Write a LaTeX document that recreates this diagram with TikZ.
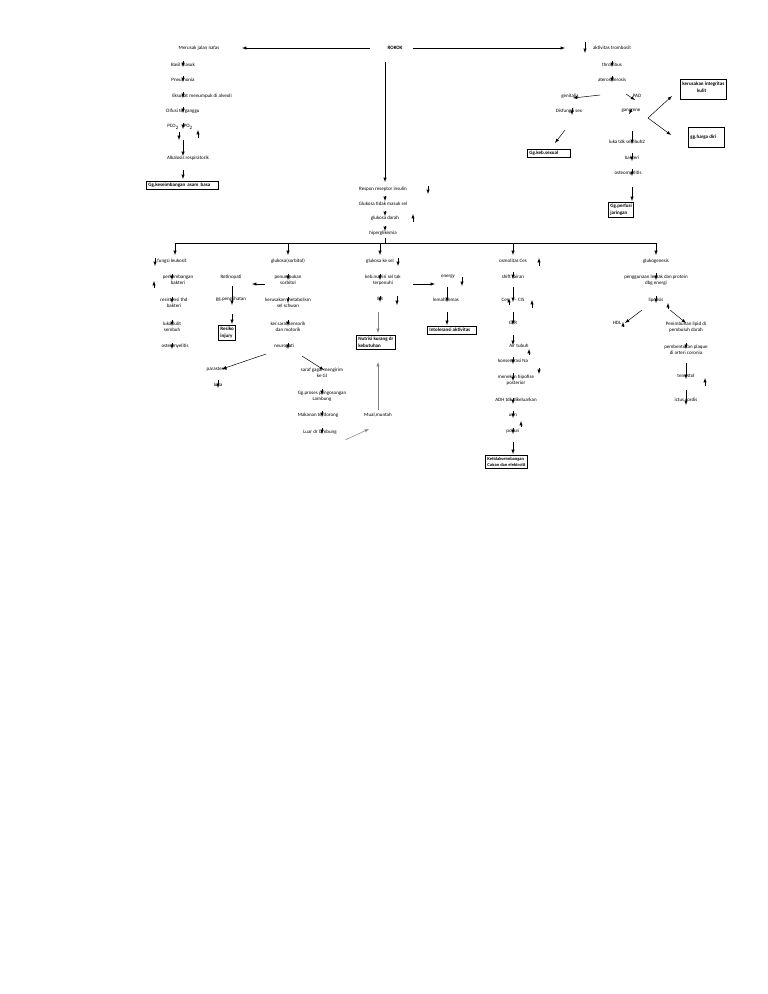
\documentclass[tikz,border=0pt]{standalone}
\usepackage{fontspec}
\setmainfont{Carlito}
\begin{document}
\begin{tikzpicture}[x=1pt,y=-1pt,
 t/.style={font=\fontsize{5}{6}\selectfont,align=center,inner sep=0.5pt},
 bx/.style={draw,line width=0.9pt,font=\bfseries\fontsize{5}{6.5}\selectfont,align=left,anchor=north west,inner sep=2pt},
 ar/.style={-latex,line width=0.5pt},
 gr/.style={-latex,line width=0.5pt,gray}]
\useasboundingbox (0,0) rectangle (768,994);
% top
\node[t,font=\bfseries\fontsize{5}{6}\selectfont] (rokok) at (395,48) {ROKOK};
\node[t] (mj) at (199,48) {Merusak jalan nafas};
\node[t] (at) at (612,48) {aktivitas trombosit};
\coordinate (rl) at (370,48); \coordinate (rr) at (413,48);
\draw[ar] (rl) -- (mj.east -| 242,48);
\draw[ar] (rr) -- (565,48);
\draw[ar] (585,42) -- (585,53);
% left col
\node[t] (bm) at (183,65) {Basil masuk};
\node[t] (pn) at (183,80) {Pneumonia};
\node[t] (ek) at (202,96) {Eksudat menumpuk di alveoli};
\node[t] (dt) at (183,111) {Difusi terganggu};
\node[t] (pc) at (180,127) {PCO\textsubscript{2}\quad PO\textsubscript{2}};
\node[t] (al) at (188,158) {Alkalosis respiratorik};
\node[bx] (kab) at (146,181) {Gg.keseimbangan\ \ asam\ \ basa\hspace{6pt}};
\foreach \y in {61,76,92,107,123}{\draw[ar] (183,\y) -- (183,\y+6);}
\draw[ar] (179,132) -- (179,140); \draw[ar] (198,138) -- (198,130);
\draw[ar] (183,140) -- (183,156); \draw[ar] (183,170) -- (183,179);
% center
\coordinate (rd) at (385,62);
\node[t] (rri) at (383,189) {Respon reseptor insulin};
\draw[ar] (rd) -- (385,182);
\node[t] (gtm) at (383,204) {Glukosa tidak masuk sel};
\node[t] (gd) at (385,218) {glukosa darah};
\node[t] (hg) at (383,233) {hiperglikemia};
\draw[ar] (428,186) -- (428,194); \draw[ar] (413,222) -- (413,214);
\foreach \y in {196,211,226}{\draw[ar] (385,\y) -- (385,\y+5);}
\draw (385,238) -- (385,243); \draw (175,243) -- (656,243);
\foreach \x in {175,288,380,513,656}{\draw[ar] (\x,243) -- (\x,255);}
% col1
\node[t] (fl) at (172,261) {fungsi leukosit};
\node[t] (pb) at (178,280) {perkembangan\\bakteri};
\node[t] (rb) at (174,303) {resistensi thd\\bakteri};
\node[t] (ls) at (172,327) {luka sulit\\sembuh};
\node[t] (os1) at (175,346) {osteomyelitis};
\draw[ar] (155,258) -- (155,266); \draw[ar] (154,288) -- (154,281);
\foreach \y in {274,297,320,343}{\draw[ar] (172,\y) -- (172,\y+6);}
\node[t] (ret) at (231,277) {Retinopati};
\node[t] (gp) at (231,299) {gg.penglihatan};
\node[bx] (ri) at (218,325) {Resiko\\injury};
\draw[ar] (232,286) -- (232,305); \draw[ar] (232,314) -- (232,324);
% col2
\node[t] (gs) at (288,261) {glukosa(sorbitol)};
\node[t] (ps) at (288,280) {penumpukan\\sorbitol};
\node[t] (km) at (288,303) {kerusakan metabolism\\sel schwan};
\node[t] (ks) at (288,327) {ker.saraf sensorik\\dan motorik};
\node[t] (ne) at (284,346) {neuropati};
\foreach \y in {274,297,320,343}{\draw[ar] (288,\y) -- (288,\y+6);}
\draw[ar] (265,284) -- (252,284);
\node[t] (pa) at (217,369) {parastesia};
\node[t] (lk) at (218,385) {luka};
\draw[ar] (218,380) -- (218,388);
\draw[ar] (266,354) -- (222,369);
\node[t] (sg) at (322,373) {saraf gagal mengirim\\ke GI};
\draw[ar] (302,356) -- (324,370);
\node[t] (gpl) at (322,396) {Gg.proses pengosongan\\Lambung};
\node[t] (mt) at (318,415) {Makanan terdorong};
\node[t] (ld) at (320,432) {Luar dr lambung};
\foreach \y in {389,411,428}{\draw[ar] (322,\y) -- (322,\y+6);}
\draw[gr] (345,440) -- (369,429);
% col3
\node[t] (gks) at (380,261) {glukosa ke sel};
\node[t] (kn) at (383,280) {keb.nutrisi sel tak\\terpenuhi};
\node[t] (bb) at (380,299) {BB};
\node[bx] (nk) at (356,335) {Nutrisi kurang dr\\kebutuhan};
\node[t] (mm) at (378,415) {Mual,muntah};
\draw[ar] (398,258) -- (398,266);
\draw[ar] (380,274) -- (380,280); \draw[ar] (380,296) -- (380,302);
\draw[ar] (397,296) -- (397,305);
\draw[gr] (378,312) -- (378,333);
\draw[gr] (378,410) -- (378,362);
\draw[ar] (413,284) -- (435,284);
\node[t] (en) at (448,277) {energy};
\node[t] (ll) at (446,300) {lemah,lemas};
\node[bx] (ia) at (427,326) {Intoleransi aktivitas\hspace{4pt}};
\draw[ar] (462,277) -- (462,286);
\draw[ar] (447,287) -- (447,302); \draw[ar] (447,312) -- (447,325);
% col4
\node[t] (oc) at (513,261) {osmolitas Ces};
\node[t] (sc) at (513,277) {shift cairan};
\node[t] (cc) at (513,300) {Ces\ \ \ \ \ -- CIS};
\node[t] (gfr) at (513,323) {GFR};
\node[t] (atb) at (519,346) {Air tubuh};
\node[t] (kna) at (513,361) {konsentrasi Na};
\node[t] (mh) at (516,380) {menekan hipofise\\posterior};
\node[t] (adh) at (516,400) {ADH tdk dikeluarkan};
\node[t] (ur) at (513,415) {urin};
\node[t] (po) at (513,431) {poliuri};
\node[bx,font=\bfseries\fontsize{4.5}{6}\selectfont] (kce) at (485,455) {Ketidakseimbangan\\Cairan dan elektrolit\hspace{2pt}};
\draw[ar] (539,266) -- (539,258); \draw[ar] (532,308) -- (532,300);
\draw[ar] (509,305) -- (509,298);
\draw[ar] (529,355) -- (529,349); \draw[ar] (539,368) -- (539,374);
\draw[ar] (521,427) -- (521,421);
\foreach \y/\z in {272/279,287/302,312/325,335/345,357/364,373/381,398/404,411/418,428/434}{\draw[ar] (513,\y) -- (513,\z);}
\draw[ar] (513,442) -- (513,454);
% col5
\node[t] (gg) at (656,261) {glukogenesis};
\node[t] (pl) at (656,280) {penggunaan lemak dan protein\\dbg energi};
\node[t] (lp) at (656,300) {lipolisis};
\node[t] (hdl) at (617,323) {HDL};
\node[t] (plp) at (686,327) {Penimbunan lipid di\\pembuluh darah};
\node[t] (pp) at (686,350) {pembentukan plaque\\di arteri coronia};
\node[t] (ts) at (686,376) {tensistol};
\node[t] (ic) at (686,400) {ictus cordis};
\draw[ar] (656,273) -- (656,280); \draw[ar] (656,296) -- (656,303);
\draw[ar] (668,309) -- (668,303);
\draw[ar] (642,310) -- (625,323); \draw[ar] (670,310) -- (686,323);
\draw[ar] (623,326) -- (623,322);
\draw[ar] (686,343) -- (686,349); \draw[ar] (686,363) -- (686,379);
\draw[ar] (705,386) -- (705,378); \draw[ar] (686,390) -- (686,405);
% right top
\node[t] (th) at (612,65) {thrombus};
\node[t] (as) at (612,80) {aterosklerosis};
\node[t] (ge) at (570,96) {genitalia};
\node[t] (pad) at (637,96) {PAD};
\node[t] (ds) at (569,111) {Disfungsi sex};
\node[t] (gn) at (631,111) {gangrene};
\node[t] (lts) at (627,142) {luka tdk sembuh2};
\node[t] (bk) at (632,158) {bakteri};
\node[t] (os2) at (628,173) {osteomyelitis};
\node[bx] (gkx) at (527,149) {Gg.keb.sexual\hspace{10pt}};
\node[bx,minimum height=20pt,text height=6pt,anchor=north west] (kik) at (680,79) {kerusakan integritas\\ \ \ \ \ \ \ \ \ \ \ \ \ \ kulit};
\node[bx,minimum height=20pt,anchor=north west] (hd) at (688,127) {gg.harga diri\hspace{6pt}};
\node[bx] (gpj) at (608,202) {Gg.perfusi\\jaringan\hspace{14pt}};
\foreach \y in {61,76}{\draw[ar] (612,\y) -- (612,\y+6);}
\draw[ar] (600,95) -- (573,98); \draw[ar] (626,94) -- (635,100);
\draw[ar] (572,108) -- (572,115); \draw[ar] (632,109) -- (629,114);
\draw[ar] (565,130) -- (555,143);
\draw[ar] (648,118) -- (672,96); \draw[ar] (648,118) -- (671,135);
\draw[ar] (632,131) -- (632,144);
\draw[ar] (632,153) -- (632,161); \draw[ar] (632,169) -- (632,176);
\draw[ar] (632,187) -- (632,201);
\end{tikzpicture}
\end{document}
